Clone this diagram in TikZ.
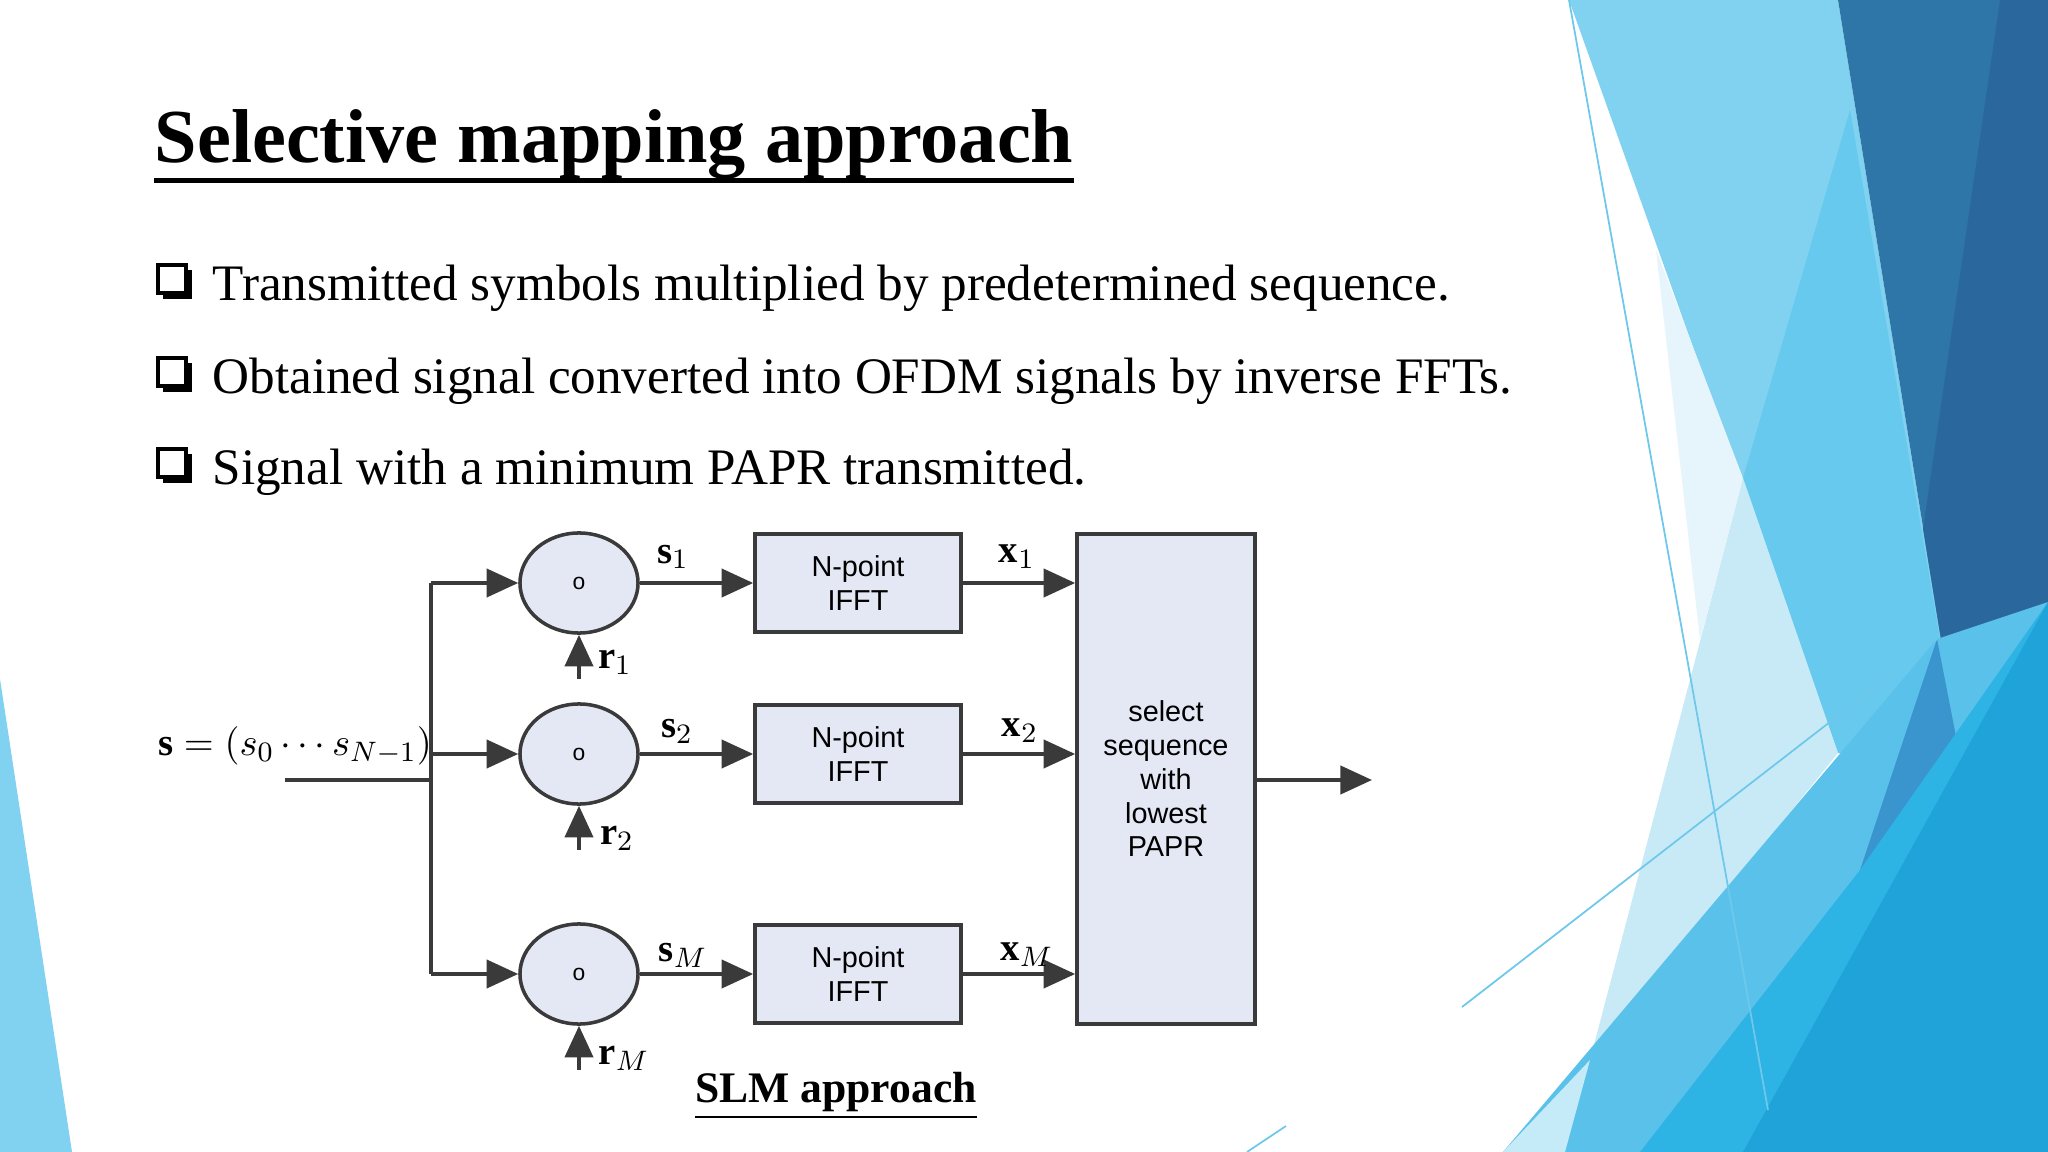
\documentclass[tikz,border=0pt]{standalone}
\usepackage{fontspec}
\setmainfont{Liberation Serif}
\newfontfamily\diagsans{Liberation Sans}
\usetikzlibrary{arrows.meta,shapes.geometric}
\definecolor{ln}{HTML}{3A3A3A}
\definecolor{bx}{HTML}{E4E8F4}
\tikzset{
  wire/.style={draw=ln, line width=1.1pt},
  arr/.style={wire, -{Triangle[length=9pt,width=8pt]}},
  blk/.style={draw=ln, line width=1pt, fill=bx, font=\diagsans\fontsize{8.2}{9.6}\selectfont, align=center, inner sep=0pt},
  mult/.style={draw=ln, line width=1pt, fill=bx, ellipse, inner sep=0pt, minimum width=1.18cm, minimum height=1.0cm},
  lab/.style={font=\fontsize{11}{12}\selectfont, inner sep=1pt},
  bul/.style={anchor=west, font=\fontsize{14.55}{18}\selectfont, inner sep=0pt}
}
\newcommand{\qbox}[2]{%
  \fill (#1+5,#2+5) rectangle (#1+34,#2+34);
  \draw[fill=white, line width=0.9pt] (#1,#2) rectangle (#1+28,#2+28);}
\begin{document}
\begin{tikzpicture}[x=0.01cm,y=-0.01cm]
\useasboundingbox (0,0) rectangle (2048,1152);
\fill[white] (0,0) rectangle (2048,1152);
% background facets
\fill[color={rgb,255:red,128;green,210;blue,240}] (1569,0) -- (1838,0) -- (1960,757) -- (1838,753) -- cycle;
\fill[color={rgb,255:red,102;green,201;blue,237}] (1850,110) -- (1960,757) -- (1838,753) -- (1743,478) -- cycle;
\fill[color={rgb,255:red,200;green,234;blue,247}] (1743,478) -- (1838,753) -- (1590,1060) -- cycle;
\fill[color={rgb,255:red,230;green,245;blue,251}] (1656,250) -- (1743,478) -- (1700,640) -- cycle;
\fill[color={rgb,255:red,47;green,118;blue,168}] (1838,0) -- (2048,0) -- (2048,602) -- (1960,757) -- cycle;
\fill[color={rgb,255:red,42;green,103;blue,156}] (2000,0) -- (2048,0) -- (2048,602) -- (1960,757) -- (1923,529) -- cycle;
\fill[color={rgb,255:red,90;green,194;blue,234}] (1503,1152) -- (1937,639) -- (2048,602) -- (2048,1152) -- cycle;
\fill[color={rgb,255:red,198;green,235;blue,248}] (1565,1152) -- (1590,1060) -- (1503,1152) -- cycle;
\fill[color={rgb,255:red,58;green,149;blue,207}] (1937,639) -- (1960,757) -- (1860,870) -- cycle;
\fill[color={rgb,255:red,45;green,180;blue,228}] (1640,1152) -- (1860,870) -- (2048,602) -- (2048,1152) -- cycle;
\fill[color={rgb,255:red,31;green,163;blue,217}] (1743,1152) -- (2048,602) -- (2048,1152) -- cycle;
\draw[color={rgb,255:red,110;green,200;blue,235}, line width=0.5pt] (1569,0) -- (1768,1110);
\draw[color={rgb,255:red,110;green,200;blue,235}, line width=0.5pt] (1462,1007) -- (1937,639);
\draw[color={rgb,255:red,110;green,200;blue,235}, line width=0.5pt] (1247,1152) -- (1286,1126);
\fill[color={rgb,255:red,128;green,210;blue,240}] (0,679) -- (72,1152) -- (0,1152) -- cycle;
% title and bullets
\node[anchor=base west, inner sep=0pt, font=\bfseries\fontsize{21.7}{24}\selectfont] (title) at (154,163) {Selective mapping approach};
\draw[line width=1.3pt] ([yshift=-5pt]title.base west) -- ([yshift=-5pt]title.base east);
\qbox{158}{265}
\node[bul] (b1) at (212,288) {Transmitted symbols multiplied by predetermined sequence.};
\qbox{158}{358}
\node[bul] (b2) at (212,381) {Obtained signal converted into OFDM signals by inverse FFTs.};
\qbox{158}{449}
\node[bul] (b3) at (212,472) {Signal with a minimum PAPR transmitted.};
% diagram
\foreach \i/\y in {1/583,2/754,3/974}{
  \node[mult] (c\i) at (579,\y) {};
  \node[font=\diagsans\fontsize{6.5}{8}\selectfont] (o\i) at (579,\y) {o};
  \node[blk, minimum width=2.06cm, minimum height=0.98cm] (f\i) at (858,\y) {N-point\\IFFT};
  \coordinate (bus\i) at (431,\y);
  \coordinate (rb\i) at (579,\y+96);
}
\node[blk, minimum width=1.78cm, minimum height=4.9cm] (sel) at (1166,779) {select\\sequence\\with\\lowest\\PAPR};
\coordinate (in) at (285,780);
\coordinate (busin) at (431,780);
\coordinate (out) at (1372,780);
\draw[wire] (in) -- (busin);
\draw[wire] (bus1) -- (bus3);
\foreach \i in {1,2,3}{
  \draw[arr] (bus\i) -- (c\i.west);
  \draw[arr] (c\i.east) -- (f\i.west);
  \draw[arr] (f\i.east) -- (f\i.east -| sel.west);
  \draw[arr] (rb\i) -- (c\i.south);
}
\draw[arr] (sel.east |- out) -- (out);
\node[lab] (sl) at (295,746) {$\mathbf{s}=(s_0\cdots s_{N-1})$};
\node[lab] (s1) at (673,557) {$\mathbf{s}_1$};
\node[lab] (s2) at (677,731) {$\mathbf{s}_2$};
\node[lab] (s3) at (683,955) {$\mathbf{s}_M$};
\node[lab] (x1) at (1017,557) {$\mathbf{x}_1$};
\node[lab] (x2) at (1020,731) {$\mathbf{x}_2$};
\node[lab] (x3) at (1027,955) {$\mathbf{x}_M$};
\node[lab] (r1) at (615,662) {$\mathbf{r}_1$};
\node[lab] (r2) at (617,838) {$\mathbf{r}_2$};
\node[lab] (r3) at (624,1058) {$\mathbf{r}_M$};
\node[inner sep=0pt, font=\bfseries\fontsize{12.4}{15}\selectfont] (cap) at (836,1096) {\underline{SLM approach}};
\end{tikzpicture}
\end{document}
